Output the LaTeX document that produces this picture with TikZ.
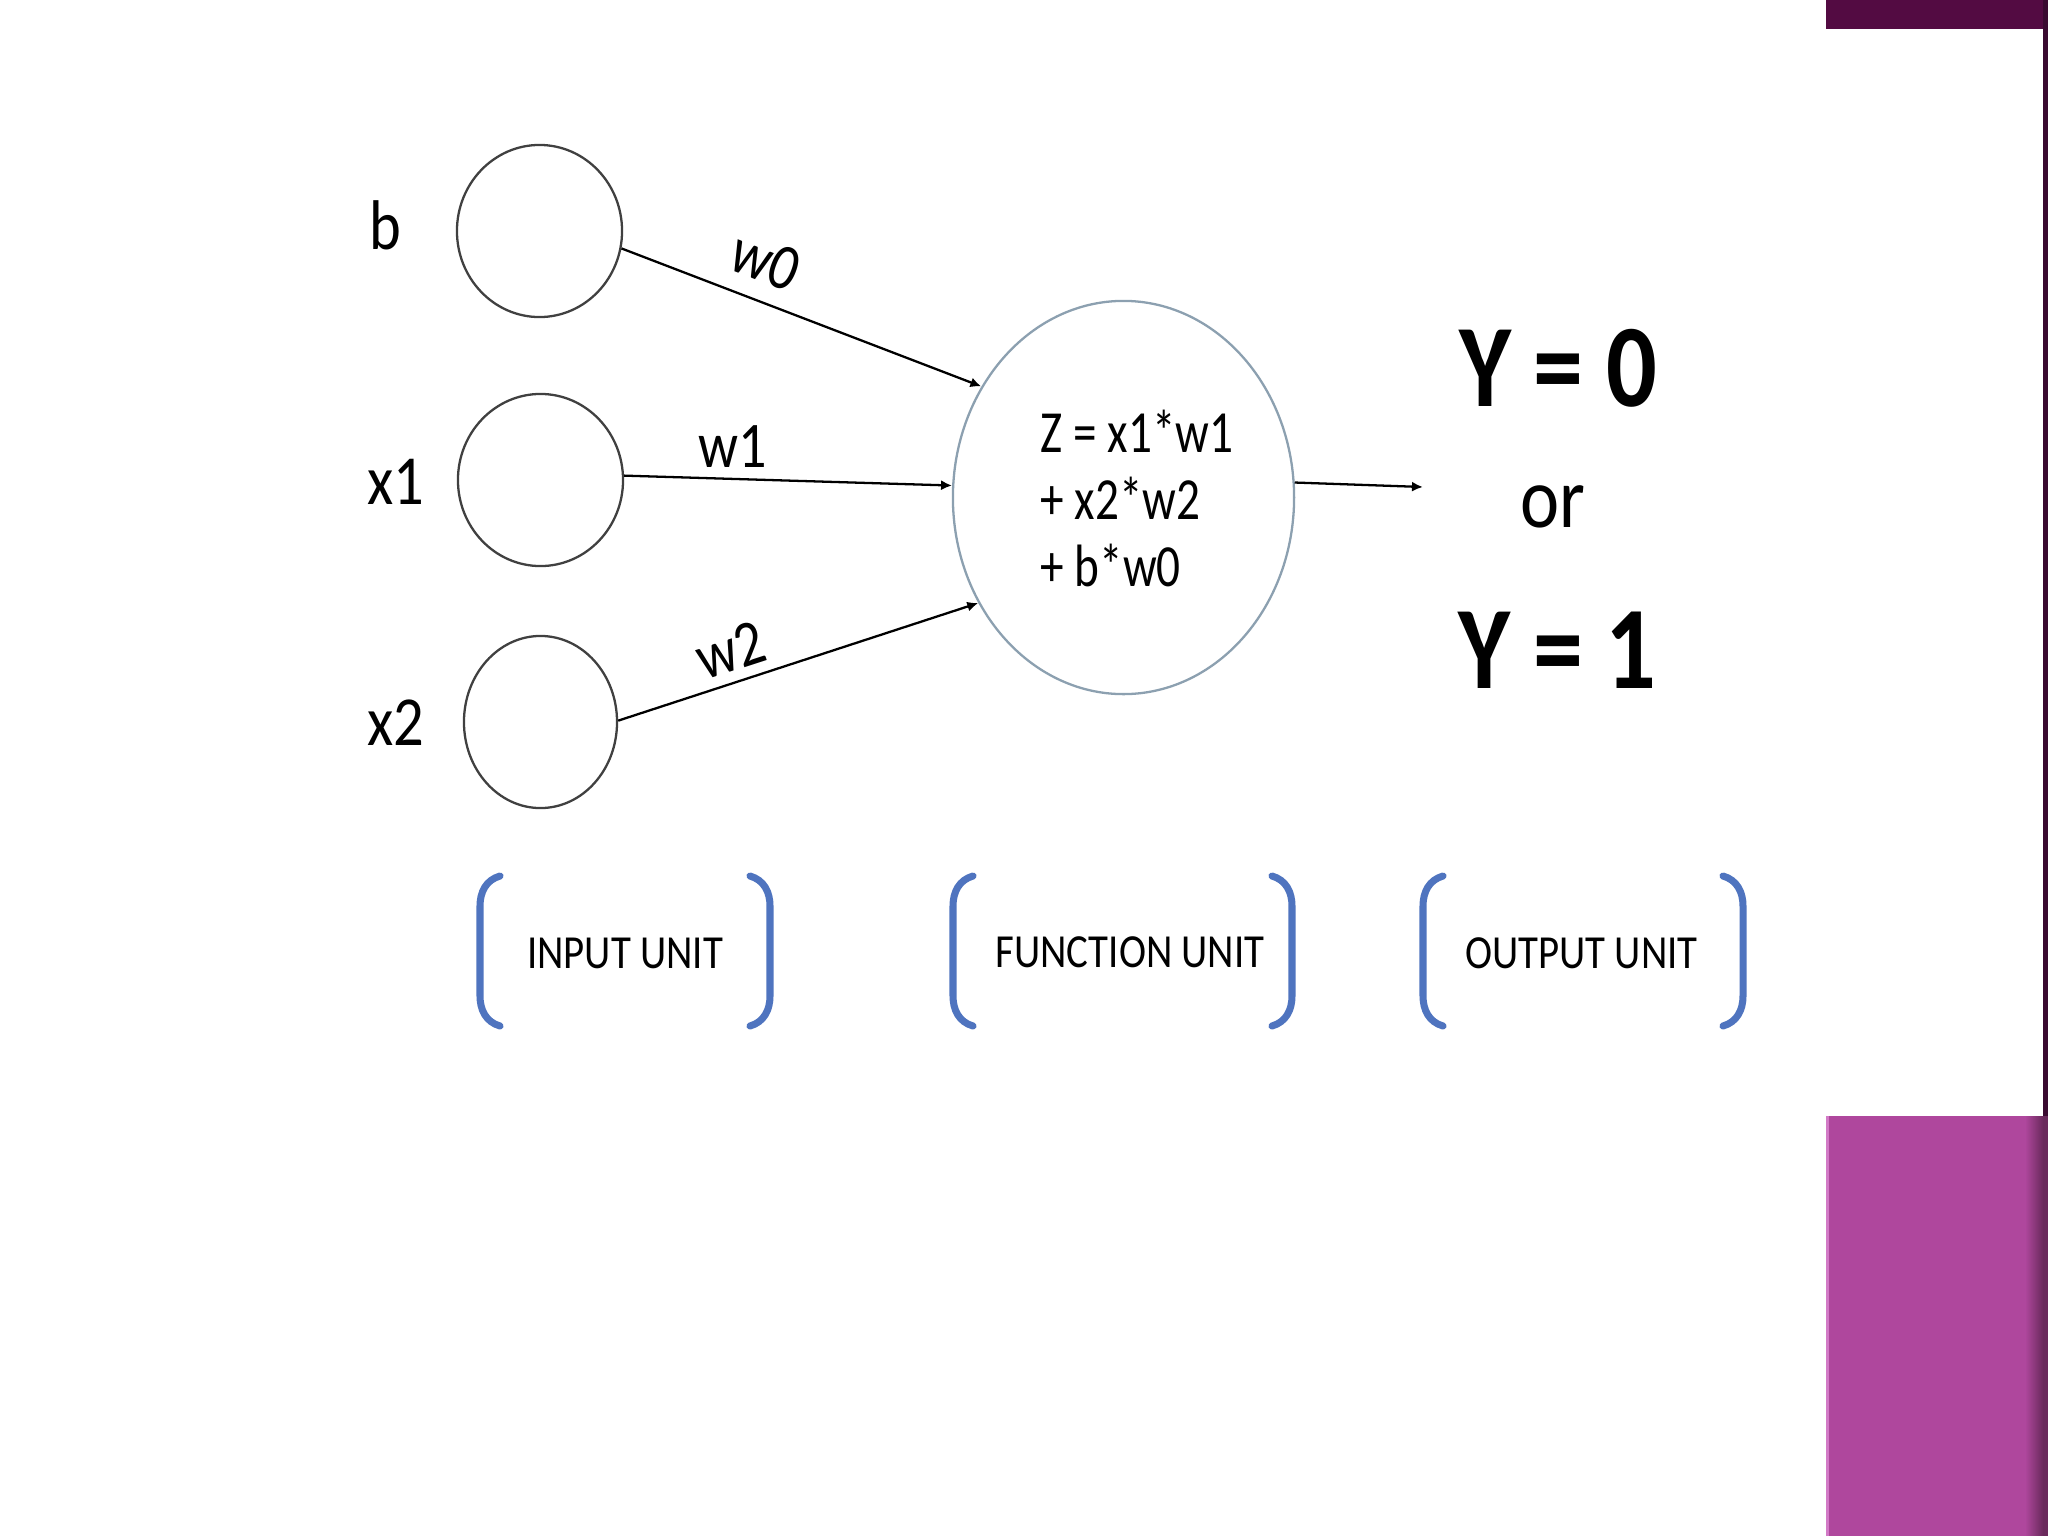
\documentclass[tikz,border=0pt]{standalone}
\usepackage{fontspec}
\setmainfont{Carlito}[FakeStretch=0.86]
\newfontfamily\funcfont{Carlito}[FakeStretch=0.79]
\newfontfamily\yfont{Carlito}[FakeStretch=0.85]
\usetikzlibrary{shapes.geometric,arrows.meta}
\definecolor{plumdark}{HTML}{530B42}
\definecolor{plumedge}{HTML}{3A0A30}
\definecolor{magbar}{HTML}{AF479D}
\definecolor{magedge}{HTML}{6A2A5C}
\definecolor{maglight}{HTML}{D27AC6}
\definecolor{funcline}{HTML}{8CA0B0}
\definecolor{circline}{HTML}{404040}
\definecolor{unitblue}{HTML}{4F74BF}
\tikzset{
  unitcirc/.style={ellipse, draw=circline, line width=0.65pt, inner sep=0pt, minimum height=1.72cm},
  funcell/.style={ellipse, draw=funcline, line width=0.65pt, inner sep=0pt},
  arr/.style={draw=black, line width=0.65pt, -{Latex[length=1.1mm,width=1mm]}},
  inlabel/.style={anchor=base, inner sep=0pt, font=\fontsize{20}{24}\selectfont},
  wlabel/.style={inner sep=0pt, font=\fontsize{18.5}{22}\selectfont},
  ftext/.style={anchor=base west, inner sep=0pt, font=\fontsize{17}{20}\funcfont},
  ylabel/.style={anchor=base, inner sep=0pt, font=\fontsize{33.5}{40}\yfont\bfseries},
  orlabel/.style={anchor=base, inner sep=0pt, font=\fontsize{24.5}{30}\selectfont},
  unitlabel/.style={inner sep=0pt, font=\fontsize{13.5}{16}\selectfont},
  bracketline/.style={draw=unitblue, line width=2pt, line cap=round},
  lbrack/.pic={\path[bracketline] (20,1) .. controls (6,5) and (0,17) .. (0,31) -- (0,121) .. controls (0,135) and (6,147) .. (20,151);},
  rbrack/.pic={\path[bracketline] (-20,1) .. controls (-6,5) and (0,17) .. (0,31) -- (0,121) .. controls (0,135) and (-6,147) .. (-20,151);}
}
\begin{document}
\begin{tikzpicture}[x=0.01cm,y=-0.01cm]
\useasboundingbox (0,0) rectangle (2048,1536);
\fill[white] (0,0) rectangle (2048,1536);
% side decoration
\fill[plumdark] (1826,0) rectangle (2043,29);
\fill[magbar] (1826,1116) rectangle (2043,1536);
\shade[left color=magbar, right color=magedge] (2025,1116) rectangle (2043,1536);
\fill[maglight] (1826,1116) rectangle (1829,1536);
\fill[plumedge] (2043,0) rectangle (2048,1116);
\fill[magedge] (2043,1116) rectangle (2048,1536);
% input units
\node[unitcirc, minimum width=1.65cm] (b) at (539.5,231) {};
\node[unitcirc, minimum width=1.65cm] (x1) at (540.5,480) {};
\node[unitcirc, minimum width=1.53cm] (x2) at (540.5,722) {};
\node[inlabel] (lb) at (385.5,249) {b};
\node[inlabel] (lx1) at (396,504) {x1};
\node[inlabel] (lx2) at (396,745) {x2};
% function unit
\node[funcell, minimum width=3.41cm, minimum height=3.93cm] (f) at (1123.5,497.5) {};
\node[ftext] (f1) at (1040,452) {Z = x1*w1};
\node[ftext] (f2) at (1040,519) {+ x2*w2};
\node[ftext] (f3) at (1040,586) {+ b*w0};
% connectors
\draw[arr] (b.-12) -- (f.142);
\draw[arr] (x1.3) -- (f.176);
\draw[arr] (x2.1) -- (f.216.7);
\coordinate (out) at (1423,487);
\draw[arr] (f.5) -- (out);
\node[wlabel, rotate=-21] (w0) at (766,261) {w0};
\node[wlabel, anchor=base] (w1) at (732.5,467) {w1};
\node[wlabel, rotate=18] (w2) at (730,650) {w2};
% output
\node[ylabel] (y0) at (1558,406) {Y = 0};
\node[orlabel] (or) at (1553,527) {or};
\node[ylabel] (y1) at (1557.5,688) {Y = 1};
% unit captions
\pic at (480,875) {lbrack};
\pic at (770,875) {rbrack};
\node[unitlabel] (iu) at (625,953) {INPUT UNIT};
\pic at (953,875) {lbrack};
\pic at (1292,875) {rbrack};
\node[unitlabel] (fu) at (1130,952.5) {FUNCTION UNIT};
\pic at (1423,875) {lbrack};
\pic at (1743,875) {rbrack};
\node[unitlabel] (ou) at (1581.5,953) {OUTPUT UNIT};
\end{tikzpicture}
\end{document}
